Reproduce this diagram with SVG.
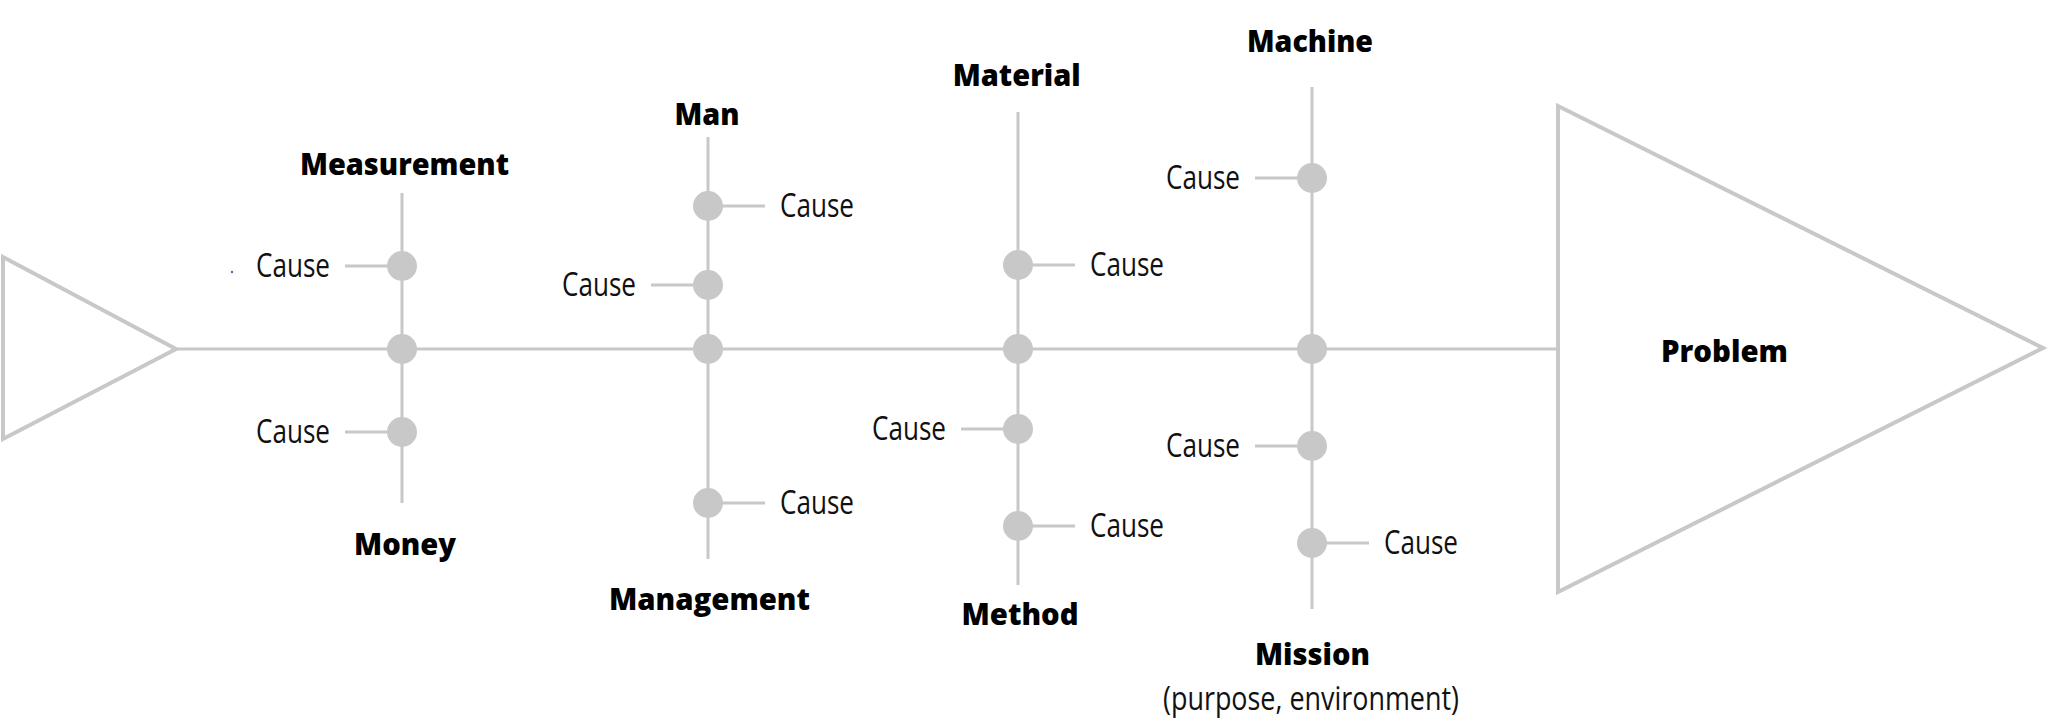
<svg xmlns="http://www.w3.org/2000/svg" width="2048" height="728" viewBox="0 0 2048 728">
  <style>
    .ln { stroke: #c8c8c8; stroke-width: 3; fill: none; }
    .tri { stroke: #c8c8c8; stroke-width: 4; fill: #ffffff; stroke-linejoin: miter; }
    .dot { fill: #c8c8c8; }
    .hd { font-family: "Open Sans", "Noto Sans", "DejaVu Sans", sans-serif; font-weight: 800; font-size: 30px; fill: #000; text-anchor: middle; }
    .cs { font-family: "Open Sans", "Noto Sans", "DejaVu Sans", sans-serif; font-weight: 400; font-size: 33px; fill: #111; }
    .l { text-anchor: end; }
    .r { text-anchor: start; }
  </style>
  <rect width="2048" height="728" fill="#ffffff"/>

  <g id="connectors">
    <line class="ln" x1="176" y1="349" x2="1558" y2="349"/>
    <!-- spines -->
    <line class="ln" x1="402" y1="193" x2="402" y2="503"/>
    <line class="ln" x1="708" y1="137" x2="708" y2="559"/>
    <line class="ln" x1="1018" y1="112" x2="1018" y2="585"/>
    <line class="ln" x1="1312" y1="87" x2="1312" y2="609"/>
    <!-- cause ribs -->
    <line class="ln" x1="345" y1="266" x2="402" y2="266"/>
    <line class="ln" x1="345" y1="432" x2="402" y2="432"/>
    <line class="ln" x1="708" y1="206" x2="765" y2="206"/>
    <line class="ln" x1="651" y1="285" x2="708" y2="285"/>
    <line class="ln" x1="708" y1="503" x2="765" y2="503"/>
    <line class="ln" x1="1018" y1="265" x2="1075" y2="265"/>
    <line class="ln" x1="961" y1="429" x2="1018" y2="429"/>
    <line class="ln" x1="1018" y1="526" x2="1075" y2="526"/>
    <line class="ln" x1="1255" y1="178" x2="1312" y2="178"/>
    <line class="ln" x1="1255" y1="446" x2="1312" y2="446"/>
    <line class="ln" x1="1312" y1="543" x2="1369" y2="543"/>
  </g>

  <g id="tail">
    <polygon class="tri" points="3,257 176,349 3,439"/>
  </g>

  <g id="problem">
    <polygon class="tri" points="1558,106 2043,348 1558,592"/>
    <text class="hd" x="1724.5" y="362" textLength="127" lengthAdjust="spacingAndGlyphs">Problem</text>
  </g>

  <g id="measurement">
    <text class="hd" x="404.5" y="175" textLength="209" lengthAdjust="spacingAndGlyphs">Measurement</text>
    <circle class="dot" cx="402" cy="266" r="15"/>
    <circle class="dot" cx="402" cy="349" r="15"/>
    <text class="cs l" x="330" y="277" textLength="74" lengthAdjust="spacingAndGlyphs">Cause</text>
  </g>

  <g id="money">
    <text class="hd" x="405" y="555" textLength="102" lengthAdjust="spacingAndGlyphs">Money</text>
    <circle class="dot" cx="402" cy="432" r="15"/>
    <text class="cs l" x="330" y="443" textLength="74" lengthAdjust="spacingAndGlyphs">Cause</text>
  </g>

  <g id="man">
    <text class="hd" x="707" y="124.5" textLength="65" lengthAdjust="spacingAndGlyphs">Man</text>
    <circle class="dot" cx="708" cy="206" r="15"/>
    <circle class="dot" cx="708" cy="285" r="15"/>
    <circle class="dot" cx="708" cy="349" r="15"/>
    <text class="cs r" x="780" y="217" textLength="74" lengthAdjust="spacingAndGlyphs">Cause</text>
    <text class="cs l" x="636" y="296" textLength="74" lengthAdjust="spacingAndGlyphs">Cause</text>
  </g>

  <g id="management">
    <text class="hd" x="709.5" y="610" textLength="201" lengthAdjust="spacingAndGlyphs">Management</text>
    <circle class="dot" cx="708" cy="503" r="15"/>
    <text class="cs r" x="780" y="514" textLength="74" lengthAdjust="spacingAndGlyphs">Cause</text>
  </g>

  <g id="material">
    <text class="hd" x="1016.7" y="86" textLength="128" lengthAdjust="spacingAndGlyphs">Material</text>
    <circle class="dot" cx="1018" cy="265" r="15"/>
    <circle class="dot" cx="1018" cy="349" r="15"/>
    <text class="cs r" x="1090" y="276" textLength="74" lengthAdjust="spacingAndGlyphs">Cause</text>
  </g>

  <g id="method">
    <text class="hd" x="1020" y="625" textLength="117" lengthAdjust="spacingAndGlyphs">Method</text>
    <circle class="dot" cx="1018" cy="429" r="15"/>
    <circle class="dot" cx="1018" cy="526" r="15"/>
    <text class="cs l" x="946" y="440" textLength="74" lengthAdjust="spacingAndGlyphs">Cause</text>
    <text class="cs r" x="1090" y="537" textLength="74" lengthAdjust="spacingAndGlyphs">Cause</text>
  </g>

  <g id="machine">
    <text class="hd" x="1310" y="52" textLength="126" lengthAdjust="spacingAndGlyphs">Machine</text>
    <circle class="dot" cx="1312" cy="178" r="15"/>
    <circle class="dot" cx="1312" cy="349" r="15"/>
    <text class="cs l" x="1240" y="189" textLength="74" lengthAdjust="spacingAndGlyphs">Cause</text>
  </g>

  <g id="mission">
    <text class="hd" x="1312.5" y="665" textLength="115" lengthAdjust="spacingAndGlyphs">Mission</text>
    <text class="cs" x="1311" y="710" text-anchor="middle" textLength="296" lengthAdjust="spacingAndGlyphs">(purpose, environment)</text>
    <circle class="dot" cx="1312" cy="446" r="15"/>
    <circle class="dot" cx="1312" cy="543" r="15"/>
    <text class="cs l" x="1240" y="457" textLength="74" lengthAdjust="spacingAndGlyphs">Cause</text>
    <text class="cs r" x="1384" y="554" textLength="74" lengthAdjust="spacingAndGlyphs">Cause</text>
  </g>

  <circle cx="232" cy="272" r="1.2" fill="#4a6a9a"/>
</svg>
